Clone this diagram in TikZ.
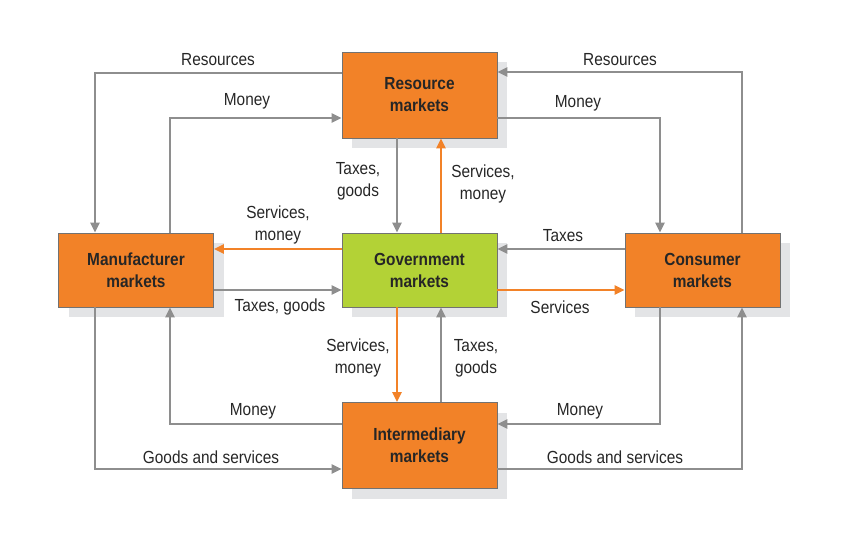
\documentclass[tikz,border=0pt]{standalone}
\usepackage{fontspec}
\setmainfont[FakeStretch=0.88]{Liberation Sans}
\usetikzlibrary{arrows.meta}
\definecolor{org}{HTML}{F28228}
\definecolor{grn}{HTML}{B3D236}
\definecolor{ln}{HTML}{8E8E8E}
\definecolor{shd}{HTML}{E3E4E6}
\tikzset{
 box/.style={draw=ln!80!black, line width=0.6pt, fill=org, minimum width=155pt, minimum height=74pt, align=center, font=\bfseries\fontsize{17.5}{22}\selectfont, text=black!85},
 gbox/.style={box, fill=grn},
 gl/.style={draw=ln, line width=2.4pt, -{Triangle[length=10pt,width=9pt]}},
 ol/.style={draw=org, line width=2.4pt, -{Triangle[length=10pt,width=9pt]}},
 lab/.style={font=\fontsize{17.5}{22}\selectfont, align=center, text=black!85, inner sep=1pt}
}
\begin{document}
\begin{tikzpicture}[x=1pt,y=-1pt]
\useasboundingbox (0,0) rectangle (846,541);
\foreach \cx/\cy/\h in {419.5/95/86, 136/270/74, 419.5/270/74, 702.5/270/74, 419.5/445.5/86}{
 \fill[shd] (\cx-77.5+10,\cy-\h/2+10) rectangle (\cx+77.5+10,\cy+\h/2+10);}
\node[box, minimum height=86pt] (res) at (419.5,95) {Resource\\markets};
\node[box] (man) at (136,270) {Manufacturer\\markets};
\node[gbox] (gov) at (419.5,270) {Government\\markets};
\node[box] (con) at (702.5,270) {Consumer\\markets};
\node[box, minimum height=86pt] (int) at (419.5,445.5) {Intermediary\\markets};
% top
\draw[gl] ([yshift=22pt]res.west) -| ([xshift=-41pt]man.north);
\draw[gl] ([xshift=34pt]man.north) |- ([yshift=-23pt]res.west);
\draw[gl] ([xshift=39.5pt]con.north) |- ([yshift=23pt]res.east);
\draw[gl] ([yshift=-23pt]res.east) -| ([xshift=-42.5pt]con.north);
\draw[gl] ([xshift=-22.5pt]res.south) -- ([xshift=-22.5pt]gov.north);
\draw[ol] ([xshift=21.5pt]gov.north) -- ([xshift=21.5pt]res.south);
% middle
\draw[ol] ([yshift=21pt]gov.west) -- ([yshift=21pt]man.east);
\draw[gl] ([yshift=-20pt]man.east) -- ([yshift=-20pt]gov.west);
\draw[gl] ([yshift=21pt]con.west) -- ([yshift=21pt]gov.east);
\draw[ol] ([yshift=-20pt]gov.east) -- ([yshift=-20pt]con.west);
\draw[ol] ([xshift=-22.5pt]gov.south) -- ([xshift=-22.5pt]int.north);
\draw[gl] ([xshift=21.5pt]int.north) -- ([xshift=21.5pt]gov.south);
% bottom
\draw[gl] ([yshift=21.5pt]int.west) -| ([xshift=34pt]man.south);
\draw[gl] ([xshift=-41pt]man.south) |- ([yshift=-23.5pt]int.west);
\draw[gl] ([xshift=-42.5pt]con.south) |- ([yshift=21.5pt]int.east);
\draw[gl] ([yshift=-23.5pt]int.east) -| ([xshift=39.5pt]con.south);
% labels
\node[lab] (l1) at (218,60) {Resources};
\node[lab] (l2) at (247,101) {Money};
\node[lab] (l3) at (620,60) {Resources};
\node[lab] (l4) at (578,103) {Money};
\node[lab] (l5) at (358,181) {Taxes,\\goods};
\node[lab] (l6) at (483,184) {Services,\\money};
\node[lab] (l7) at (278,225) {Services,\\money};
\node[lab] (l8) at (280,307) {Taxes, goods};
\node[lab] (l9) at (563,236) {Taxes};
\node[lab] (l10) at (560,307) {Services};
\node[lab] (l11) at (358,358) {Services,\\money};
\node[lab] (l12) at (476,358) {Taxes,\\goods};
\node[lab] (l13) at (253,411) {Money};
\node[lab] (l14) at (211,457) {Goods and services};
\node[lab] (l15) at (580,411) {Money};
\node[lab] (l16) at (615,457) {Goods and services};
\end{tikzpicture}
\end{document}
